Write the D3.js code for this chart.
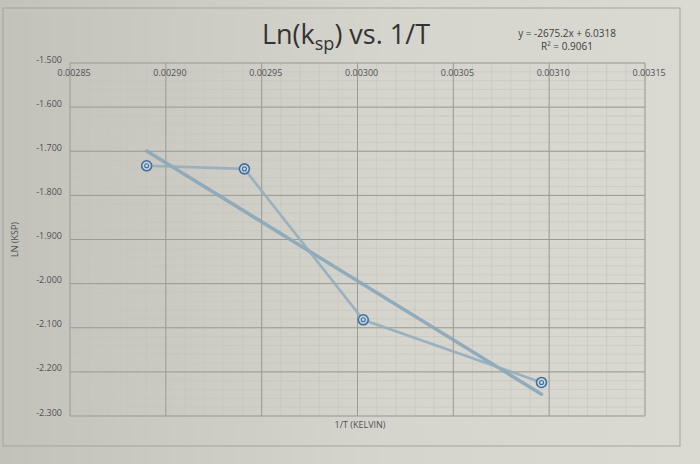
<!DOCTYPE html>
<html>
<head>
<meta charset="utf-8">
<script src="https://cdn.jsdelivr.net/npm/d3@7"></script>
<style>
  body { margin: 0; background: #cfcfc8; }
  svg { display: block; }
</style>
</head>
<body>
<svg id="svg" width="700" height="464"></svg>
<script>
// data
let invT = [0.002890, 0.002941, 0.003003, 0.003096];
let lnKsp = [-1.733, -1.740, -2.082, -2.224];
let xTicks = [0.00285, 0.00290, 0.00295, 0.00300, 0.00305, 0.00310, 0.00315];
let yTicks = [-1.5, -1.6, -1.7, -1.8, -1.9, -2.0, -2.1, -2.2, -2.3];
let trendSlope = -2675.2, trendIntercept = 6.0318;
let equationLines = ["y = -2675.2x + 6.0318", "R² = 0.9061"];

let svg = d3.select("#svg");
let locale = d3.formatLocale({decimal: ".", thousands: ",", grouping: [3], currency: ["$", ""], minus: "-"});

let defs = svg.append("defs");
let grad = defs.append("linearGradient").attr("id", "paper");
grad.append("stop").attr("offset", "0%").attr("stop-color", "#c2c2bb");
grad.append("stop").attr("offset", "55%").attr("stop-color", "#d5d5ce");
grad.append("stop").attr("offset", "100%").attr("stop-color", "#dadad3");

svg.append("rect").attr("width", 700).attr("height", 464).attr("fill", "url(#paper)");

// chart area border
svg.append("rect")
  .attr("x", 3).attr("y", 8).attr("width", 677).attr("height", 438)
  .attr("fill", "none").attr("stroke", "#a5a59e").attr("stroke-width", 1);

let margin = {top: 63, left: 70, right: 55, bottom: 48};
let x = d3.scaleLinear().domain([0.00285, 0.00315]).range([margin.left, 700 - margin.right]);
let y = d3.scaleLinear().domain([-2.3, -1.5]).range([464 - margin.bottom, margin.top]);

// minor grid
let xMinor = d3.range(0, 31).map(i => 0.00285 + i * 0.00001);
let yMinor = d3.range(0, 41).map(i => -2.3 + i * 0.02);
svg.append("g").selectAll("line").data(xMinor).join("line")
  .attr("x1", d => x(d)).attr("x2", d => x(d))
  .attr("y1", y(-1.5)).attr("y2", y(-2.3))
  .attr("stroke", "#c4c4bc").attr("stroke-width", 0.6);
svg.append("g").selectAll("line").data(yMinor).join("line")
  .attr("x1", x(0.00285)).attr("x2", x(0.00315))
  .attr("y1", d => y(d)).attr("y2", d => y(d))
  .attr("stroke", "#c4c4bc").attr("stroke-width", 0.6);

// major grid
svg.append("g").selectAll("line").data(xTicks).join("line")
  .attr("x1", d => x(d)).attr("x2", d => x(d))
  .attr("y1", y(-1.5)).attr("y2", y(-2.3))
  .attr("stroke", "#9b9b94").attr("stroke-width", 1);
svg.append("g").selectAll("line").data(yTicks).join("line")
  .attr("x1", x(0.00285)).attr("x2", x(0.00315))
  .attr("y1", d => y(d)).attr("y2", d => y(d))
  .attr("stroke", "#9b9b94").attr("stroke-width", 1);

// axes (labels only)
let xAxis = svg.append("g")
  .attr("transform", "translate(0," + y(-1.5) + ")")
  .call(d3.axisBottom(x).tickValues(xTicks).tickFormat(locale.format(".5f")).tickSize(0).tickPadding(7));
xAxis.select(".domain").remove();
xAxis.selectAll("text").attr("font-family", "Open Sans").attr("font-size", 9).attr("fill", "#505050").attr("dx", "0.4em");

let yAxis = svg.append("g")
  .attr("transform", "translate(" + (x(0.00285) - 6) + ",0)")
  .call(d3.axisLeft(y).tickValues(yTicks).tickFormat(locale.format(".3f")).tickSize(0).tickPadding(2));
yAxis.select(".domain").remove();
yAxis.selectAll("text").attr("font-family", "Open Sans").attr("font-size", 9).attr("fill", "#505050").attr("dy", "-0.1em");

// series line
let line = d3.line().x(d => x(d[0])).y(d => y(d[1]));
let pts = invT.map((v, i) => [v, lnKsp[i]]);

// trendline over data range
let xr = d3.extent(invT);
let trend = xr.map(v => [v, trendSlope * v + trendIntercept]);
svg.append("path").datum(trend)
  .attr("d", line).attr("fill", "none")
  .attr("stroke", "#8aa6b8").attr("stroke-width", 3.5).attr("stroke-linecap", "round").attr("opacity", 0.9);

svg.append("path").datum(pts)
  .attr("d", line).attr("fill", "none")
  .attr("stroke", "#94adbd").attr("stroke-width", 2.6).attr("opacity", 0.9);

let marks = svg.append("g").selectAll("g").data(pts).join("g")
  .attr("transform", d => "translate(" + x(d[0]) + "," + y(d[1]) + ")");
marks.append("circle").attr("r", 5).attr("fill", "#c9d5dc").attr("stroke", "#3f6f9e").attr("stroke-width", 1.6);
marks.append("circle").attr("r", 2).attr("fill", "none").attr("stroke", "#3f6f9e").attr("stroke-width", 1.1);

// title
let title = svg.append("text")
  .attr("x", 346).attr("y", 44).attr("text-anchor", "middle")
  .attr("font-family", "Open Sans").attr("font-size", 27).attr("fill", "#333");
title.append("tspan").text("Ln(k");
title.append("tspan").text("sp").attr("font-size", 18).attr("dy", 6);
title.append("tspan").text(") vs. 1/T").attr("dy", -6);

// equation
svg.append("g").selectAll("text").data(equationLines).join("text")
  .attr("x", 567).attr("y", (d, i) => 37 + i * 13)
  .attr("text-anchor", "middle")
  .attr("font-family", "Open Sans").attr("font-size", 10).attr("fill", "#404040")
  .text(d => d);

// axis titles
svg.append("text")
  .attr("transform", "translate(18," + y(-1.9) + ") rotate(-90)")
  .attr("text-anchor", "middle")
  .attr("font-family", "Open Sans").attr("font-size", 9).attr("fill", "#505050")
  .text("LN (KSP)");
svg.append("text")
  .attr("x", 360).attr("y", 428).attr("text-anchor", "middle")
  .attr("font-family", "Open Sans").attr("font-size", 9).attr("fill", "#505050")
  .text("1/T (KELVIN)");
</script>
</body>
</html>
